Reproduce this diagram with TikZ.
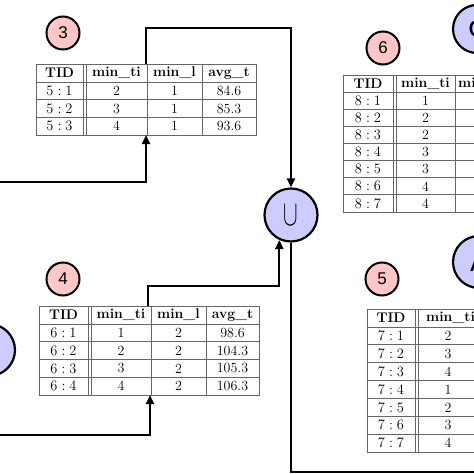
\documentclass[tikz,border=0pt]{standalone}
\usepackage{fontspec}
\newfontfamily\circfont{Liberation Sans}
\newfontfamily\opfont{DejaVu Sans}
\usetikzlibrary{arrows.meta}
\begin{document}
\begin{tikzpicture}[x=1pt,y=-1pt,
  numc/.style={circle, draw=black, line width=2pt, fill=red!22, minimum size=33pt, inner sep=0pt, font=\circfont\fontsize{17}{17}\selectfont},
  opc/.style={circle, draw=black, line width=2.2pt, fill=blue!20, inner sep=0pt},
  conn/.style={draw=black, line width=2.2pt},
  arr/.style={conn, -{Triangle[length=9pt,width=8pt]}},
  tab/.style={draw=black!60, line width=0.8pt, inner sep=0pt, outer sep=0pt, anchor=north west},
  tl/.style={draw=black!60, line width=0.8pt},
  cell/.style={inner sep=0pt, font=\fontsize{14}{16}\selectfont}
]
\useasboundingbox (0,0) rectangle (474,474);
\clip (0,0) rectangle (474,474);

% ---------- table 3 ----------
\node[tab, minimum width=220pt, minimum height=71pt] (t3) at (36,64) {};
\foreach \x in {83,86,147,202} \draw[tl] (\x,64) -- (\x,135);
\foreach \y in {82,99.7,117.3} \draw[tl] (36,\y) -- (256,\y);
\node[cell] (t3h1) at (59.5,73) {\textbf{TID}};
\node[cell] (t3h2) at (116.5,73) {\textbf{min\_ti}};
\node[cell] (t3h3) at (174.5,73) {\textbf{min\_l}};
\node[cell] (t3h4) at (229,73) {\textbf{avg\_t}};
\foreach \y/\k/\b/\c/\d [count=\i] in {90.9/1/2/1/84.6, 108.5/2/3/1/85.3, 126.2/3/4/1/93.6}{
  \node[cell] (t3a\i) at (59.5,\y) {$5:\k$};
  \node[cell] (t3b\i) at (116.5,\y) {\b};
  \node[cell] (t3c\i) at (174.5,\y) {\c};
  \node[cell] (t3d\i) at (229,\y) {\d};
}

% ---------- table 4 ----------
\node[tab, minimum width=220pt, minimum height=89pt] (t4) at (39,306) {};
\foreach \x in {88,91,151,206} \draw[tl] (\x,306) -- (\x,395);
\foreach \y in {324,341.75,359.5,377.25} \draw[tl] (39,\y) -- (259,\y);
\node[cell] (t4h1) at (63.5,315) {\textbf{TID}};
\node[cell] (t4h2) at (121,315) {\textbf{min\_ti}};
\node[cell] (t4h3) at (178.5,315) {\textbf{min\_l}};
\node[cell] (t4h4) at (232.5,315) {\textbf{avg\_t}};
\foreach \y/\k/\b/\c/\d [count=\i] in {332.9/1/1/2/98.6, 350.6/2/2/2/104.3, 368.4/3/3/2/105.3, 386.1/4/4/2/106.3}{
  \node[cell] (t4a\i) at (63.5,\y) {$6:\k$};
  \node[cell] (t4b\i) at (121,\y) {\b};
  \node[cell] (t4c\i) at (178.5,\y) {\c};
  \node[cell] (t4d\i) at (232.5,\y) {\d};
}

% ---------- table 6 ----------
\node[tab, minimum width=180pt, minimum height=137pt] (t6) at (343,75) {};
\foreach \x in {393,396,455} \draw[tl] (\x,75) -- (\x,212);
\foreach \y in {92,109.14,126.29,143.43,160.57,177.71,194.86} \draw[tl] (343,\y) -- (523,\y);
\node[cell] (t6h1) at (368,83.5) {\textbf{TID}};
\node[cell] (t6h2) at (425.5,83.5) {\textbf{min\_ti}};
\node[cell, anchor=west] (t6h3) at (458,83.5) {\textbf{min\_l}};
\foreach \y/\k/\b [count=\i] in {100.6/1/1, 117.7/2/2, 134.9/3/2, 152/4/3, 169.1/5/3, 186.3/6/4, 203.4/7/4}{
  \node[cell] (t6a\i) at (368,\y) {$8:\k$};
  \node[cell] (t6b\i) at (425.5,\y) {\b};
}

% ---------- table 5 ----------
\node[tab, minimum width=160pt, minimum height=143pt] (t5) at (367,309) {};
\foreach \x in {415,418,478} \draw[tl] (\x,309) -- (\x,452);
\foreach \y in {327,344.86,362.71,380.57,398.43,416.29,434.14} \draw[tl] (367,\y) -- (527,\y);
\node[cell] (t5h1) at (391,318) {\textbf{TID}};
\node[cell, anchor=west] (t5h2) at (426,318) {\textbf{min\_ti}};
\foreach \y/\k/\b [count=\i] in {335.9/1/2, 353.8/2/3, 371.6/3/4, 389.5/4/1, 407.4/5/2, 425.2/6/3, 443.1/7/4}{
  \node[cell] (t5a\i) at (391,\y) {$7:\k$};
  \node[cell] (t5b\i) at (448,\y) {\b};
}

% ---------- circles ----------
\node[numc] (c3) at (63,33) {3};
\node[numc] (c4) at (63,279) {4};
\node[numc] (c5) at (382,279) {5};
\node[numc] (c6) at (383,48) {6};
\node[opc, minimum size=53pt] (u) at (291,215) {\scalebox{1.05}[1.75]{\fontsize{20}{20}\selectfont$\cup$}};
\node[opc, minimum size=48pt] (opTop) at (477,29) {\opfont\fontsize{28}{28}\selectfont σ};
\node[opc, minimum size=52pt] (opRight) at (479,262) {\opfont\fontsize{26}{26}\selectfont Λ};
\node[opc, minimum size=52pt] (opLeft) at (-11,350) {};

% ---------- connectors ----------
\coordinate (s1) at (-5,182);
\coordinate (k1) at (146,182);
\draw[arr] (s1) -- (k1) -- (k1 |- t3.south);
\coordinate (k2) at (146,28);
\draw[arr] (k2 |- t3.north) -- (k2) -| (u.north);
\coordinate (s3) at (-5,435);
\coordinate (k3) at (150,435);
\draw[arr] (s3) -- (k3) -- (k3 |- t4.south);
\coordinate (k4) at (148,286);
\draw[arr] (k4 |- t4.north) -- (k4) -| (u.245);
\coordinate (e5) at (480,472);
\draw[conn] (u.south) |- (e5);
\end{tikzpicture}
\end{document}
